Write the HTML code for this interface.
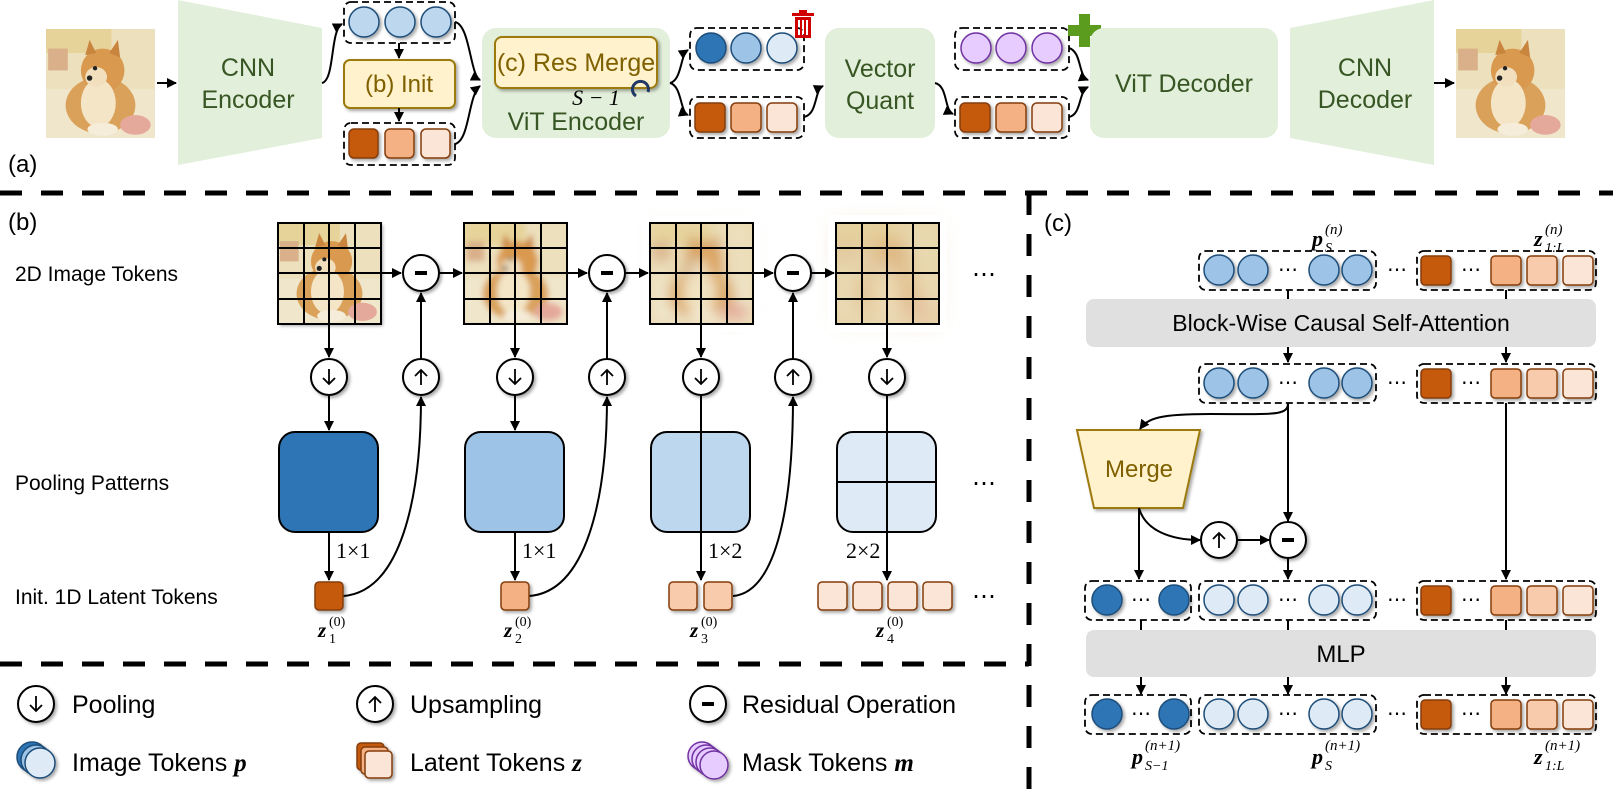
<!DOCTYPE html>
<html><head><meta charset="utf-8"><style>
html,body{margin:0;padding:0;background:#fff;}
svg{display:block;}
.t{font-family:"Liberation Sans",sans-serif;}
.m{font-family:"Liberation Serif",serif;}
</style></head><body>
<svg width="1613" height="797" viewBox="0 0 1613 797" xmlns="http://www.w3.org/2000/svg">
<defs>
<marker id="ar" markerWidth="10" markerHeight="10" refX="9" refY="5" orient="auto" markerUnits="userSpaceOnUse"><path d="M0,0 L10,5 L0,10 z" fill="#000"/></marker>
<filter id="sh" x="-30%" y="-30%" width="170%" height="170%"><feDropShadow dx="2" dy="2" stdDeviation="1.5" flood-color="#000" flood-opacity="0.35"/></filter>
<filter id="b1" x="-20%" y="-20%" width="140%" height="140%"><feGaussianBlur stdDeviation="0.5"/></filter>
<filter id="b2" x="-20%" y="-20%" width="140%" height="140%"><feGaussianBlur stdDeviation="3"/></filter>
<filter id="b3" x="-20%" y="-20%" width="140%" height="140%"><feGaussianBlur stdDeviation="6"/></filter>
<filter id="b4" x="-20%" y="-20%" width="140%" height="140%"><feGaussianBlur stdDeviation="10"/></filter>
<g id="dog">
<rect x="0" y="0" width="100" height="100" fill="#ece0bd"/>
<rect x="0" y="0" width="60" height="22" fill="#e6d39a"/>
<rect x="2" y="18" width="18" height="20" fill="#d9b08a"/>
<rect x="0" y="55" width="100" height="45" fill="#f0e6cc"/>
<ellipse cx="50" cy="70" rx="32" ry="26" fill="#d9a15a"/>
<ellipse cx="52" cy="38" rx="20" ry="20" fill="#d99a50"/>
<ellipse cx="48" cy="68" rx="16" ry="22" fill="#f3e5c6"/>
<ellipse cx="46" cy="44" rx="10" ry="9" fill="#f1dfbe"/>
<path d="M36,24 L40,10 L46,22 z M58,22 L66,10 L68,26 z" fill="#c9853e"/>
<ellipse cx="82" cy="88" rx="14" ry="9" fill="#e4a99a"/>
<ellipse cx="52" cy="92" rx="14" ry="6" fill="#f5ecd9"/>
<circle cx="45" cy="36" r="2" fill="#222"/><circle cx="40" cy="45" r="2.5" fill="#222"/>
</g>
</defs>

<!-- ===== (a) ===== -->
<use href="#dog" transform="translate(46,29) scale(1.09,1.09)"/>
<line x1="157" y1="83" x2="176" y2="83" stroke="#000" stroke-width="2" marker-end="url(#ar)"/>
<polygon points="178,0 322,28 322,138 178,165" fill="#e2efda"/>
<text class="t" x="248" y="76" font-size="25" fill="#375623" text-anchor="middle">CNN</text>
<text class="t" x="248" y="108" font-size="25" fill="#375623" text-anchor="middle">Encoder</text>

<rect x="344" y="2" width="111" height="41" rx="7" fill="none" stroke="#000" stroke-width="1.8" stroke-dasharray="7,4"/>
<g filter="url(#sh)" stroke="#1f4e79" stroke-width="1.5" fill="#bdd7ee">
<circle cx="364" cy="22" r="15"/><circle cx="400" cy="22" r="15"/><circle cx="436" cy="22" r="15"/></g>
<rect x="344" y="60" width="111" height="48" rx="6" fill="#fff2cc" stroke="#9c7a10" stroke-width="2" filter="url(#sh)"/>
<text class="t" x="399" y="92" font-size="24" fill="#7f6000" text-anchor="middle">(b) Init</text>
<rect x="344" y="123" width="111" height="42" rx="7" fill="none" stroke="#000" stroke-width="1.8" stroke-dasharray="7,4"/>
<g filter="url(#sh)" stroke="#843c0c" stroke-width="1.5">
<rect x="349" y="129" width="29" height="29" rx="5" fill="#c55a11"/><rect x="385" y="129" width="29" height="29" rx="5" fill="#f4b183"/><rect x="421" y="129" width="29" height="29" rx="5" fill="#fbe5d6"/></g>
<g fill="none" stroke="#000" stroke-width="2">
<path d="M322,83 C335,80 330,30 342,24" marker-end="url(#ar)"/>
<line x1="399" y1="43" x2="399" y2="58" marker-end="url(#ar)"/>
<line x1="399" y1="108" x2="399" y2="121" marker-end="url(#ar)"/>
<path d="M455,22 C470,25 470,75 480,80" marker-end="url(#ar)"/>
<path d="M455,144 C470,140 468,95 480,86" marker-end="url(#ar)"/>
</g>

<rect x="482" y="28" width="188" height="110" rx="14" fill="#e2efda"/>
<rect x="495" y="37" width="162" height="51" rx="7" fill="#fff2cc" stroke="#9c7a10" stroke-width="2" filter="url(#sh)"/>
<text class="t" x="576" y="71" font-size="25" fill="#7f6000" text-anchor="middle">(c) Res Merge</text>
<path d="M636,96 A8,8 0 1 1 648,92" fill="none" stroke="#1f3864" stroke-width="3"/>
<text class="m" x="596" y="105" font-size="22" font-style="italic" text-anchor="middle">S − 1</text>
<text class="t" x="576" y="130" font-size="25" fill="#375623" text-anchor="middle">ViT Encoder</text>

<g fill="none" stroke="#000" stroke-width="2">
<path d="M670,83 C682,80 680,55 688,50" marker-end="url(#ar)"/>
<path d="M670,83 C682,86 680,112 688,115" marker-end="url(#ar)"/>
</g>
<rect x="690" y="28" width="114" height="42" rx="7" fill="none" stroke="#000" stroke-width="1.8" stroke-dasharray="7,4"/>
<g filter="url(#sh)" stroke="#1f4e79" stroke-width="1.5">
<circle cx="711" cy="48" r="15" fill="#2e75b6"/><circle cx="746" cy="48" r="15" fill="#9dc3e6"/><circle cx="782" cy="48" r="15" fill="#deebf7"/></g>
<g fill="#d00000"><rect x="792" y="13" width="22" height="3"/><rect x="799" y="10" width="8" height="4"/>
<path d="M795,17 h16 v21 h-16 z M798,20 v15 h2 v-15 z M802,20 v15 h2 v-15 z M806,20 v15 h2 v-15 z" fill-rule="evenodd"/></g>
<rect x="690" y="97" width="114" height="41" rx="7" fill="none" stroke="#000" stroke-width="1.8" stroke-dasharray="7,4"/>
<g filter="url(#sh)" stroke="#843c0c" stroke-width="1.5">
<rect x="695" y="103" width="30" height="29" rx="5" fill="#c55a11"/><rect x="731" y="103" width="30" height="29" rx="5" fill="#f4b183"/><rect x="767" y="103" width="30" height="29" rx="5" fill="#fbe5d6"/></g>
<path d="M804,117 C818,114 814,90 823,86" fill="none" stroke="#000" stroke-width="2" marker-end="url(#ar)"/>

<rect x="825" y="28" width="110" height="110" rx="14" fill="#e2efda"/>
<text class="t" x="880" y="77" font-size="25" fill="#375623" text-anchor="middle">Vector</text>
<text class="t" x="880" y="109" font-size="25" fill="#375623" text-anchor="middle">Quant</text>
<path d="M935,83 C948,86 944,110 953,114" fill="none" stroke="#000" stroke-width="2" marker-end="url(#ar)"/>

<rect x="955" y="28" width="114" height="42" rx="7" fill="none" stroke="#000" stroke-width="1.8" stroke-dasharray="7,4"/>
<g filter="url(#sh)" stroke="#7030a0" stroke-width="1.5" fill="#e6ccff">
<circle cx="976" cy="48" r="15"/><circle cx="1011" cy="48" r="15"/><circle cx="1047" cy="48" r="15"/></g>
<path d="M1079,14 h11 v11 h11 v11 h-11 v11 h-11 v-11 h-11 v-11 h11 z" fill="#5b9c1f"/>
<rect x="955" y="97" width="114" height="41" rx="7" fill="none" stroke="#000" stroke-width="1.8" stroke-dasharray="7,4"/>
<g filter="url(#sh)" stroke="#843c0c" stroke-width="1.5">
<rect x="960" y="103" width="30" height="29" rx="5" fill="#c55a11"/><rect x="996" y="103" width="30" height="29" rx="5" fill="#f4b183"/><rect x="1032" y="103" width="30" height="29" rx="5" fill="#fbe5d6"/></g>
<g fill="none" stroke="#000" stroke-width="2">
<path d="M1069,48 C1082,52 1078,76 1088,80" marker-end="url(#ar)"/>
<path d="M1069,117 C1082,114 1078,92 1088,87" marker-end="url(#ar)"/>
</g>
<rect x="1090" y="28" width="188" height="110" rx="14" fill="#e2efda"/>
<text class="t" x="1184" y="92" font-size="25" fill="#375623" text-anchor="middle">ViT Decoder</text>
<polygon points="1290,28 1434,0 1434,165 1290,138" fill="#e2efda"/>
<text class="t" x="1365" y="76" font-size="25" fill="#375623" text-anchor="middle">CNN</text>
<text class="t" x="1365" y="108" font-size="25" fill="#375623" text-anchor="middle">Decoder</text>
<line x1="1434" y1="83" x2="1454" y2="83" stroke="#000" stroke-width="2" marker-end="url(#ar)"/>
<use href="#dog" transform="translate(1456,29) scale(1.09,1.09)"/>
<text class="t" x="8" y="172" font-size="24">(a)</text>

<!-- separators -->
<g stroke="#000" stroke-width="5" stroke-dasharray="22,19">
<line x1="0" y1="193" x2="1613" y2="193"/>
<line x1="1029" y1="193" x2="1029" y2="797"/>
<line x1="0" y1="664" x2="1029" y2="664"/>
</g>

<!-- ===== (b) ===== -->
<text class="t" x="8" y="230" font-size="24">(b)</text>
<text class="t" x="15" y="281" font-size="21">2D Image Tokens</text>
<text class="t" x="15" y="490" font-size="21">Pooling Patterns</text>
<text class="t" x="15" y="604" font-size="21">Init. 1D Latent Tokens</text>
<g font-size="24" class="t"><text x="972" y="282">⋯</text><text x="972" y="491">⋯</text><text x="972" y="604">⋯</text></g>

<!-- grids -->
<g filter="url(#sh)"><use href="#dog" transform="translate(278,223) scale(1.03,1.01)"/></g>
<rect x="464" y="223" width="103" height="101" fill="#ebdcb6" filter="url(#sh)"/>
<g filter="url(#b2)"><use href="#dog" transform="translate(464,223) scale(1.03,1.01)"/></g>
<rect x="650" y="223" width="103" height="101" fill="#e9d8ae" filter="url(#sh)"/>
<g opacity="0.85" filter="url(#b3)"><use href="#dog" transform="translate(650,223) scale(1.03,1.01)"/></g>
<rect x="836" y="223" width="103" height="101" fill="#e5d1a2" filter="url(#sh)"/>
<g opacity="0.6" filter="url(#b4)"><use href="#dog" transform="translate(836,223) scale(1.03,1.01)"/></g>
<g fill="none" stroke="#fff" stroke-width="8">
<rect x="460" y="219" width="111" height="109"/><rect x="646" y="219" width="111" height="109"/><rect x="832" y="219" width="111" height="109"/>
</g>
<g fill="none" stroke="#000" stroke-width="2">
<path d="M278,223h103v101h-103z M304,223v101 M329,223v101 M355,223v101 M278,248h103 M278,273h103 M278,299h103"/>
<path d="M464,223h103v101h-103z M490,223v101 M515,223v101 M541,223v101 M464,248h103 M464,273h103 M464,299h103"/>
<path d="M650,223h103v101h-103z M676,223v101 M701,223v101 M727,223v101 M650,248h103 M650,273h103 M650,299h103"/>
<path d="M836,223h103v101h-103z M862,223v101 M887,223v101 M913,223v101 M836,248h103 M836,273h103 M836,299h103"/>
</g>

<!-- pooling squares -->
<g stroke="#000" stroke-width="2">
<rect x="279" y="432" width="99" height="100" rx="16" fill="#2e75b6"/>
<rect x="465" y="432" width="99" height="100" rx="16" fill="#9dc3e6"/>
<rect x="651" y="432" width="99" height="100" rx="16" fill="#bdd7ee"/>
<rect x="837" y="432" width="99" height="100" rx="16" fill="#deebf7"/>
<line x1="837" y1="482" x2="936" y2="482"/>
</g>
<!-- connectors (b) -->
<g fill="none" stroke="#000" stroke-width="2">
<line x1="329" y1="324" x2="329" y2="357" marker-end="url(#ar)"/>
<line x1="515" y1="324" x2="515" y2="357" marker-end="url(#ar)"/>
<line x1="701" y1="324" x2="701" y2="357" marker-end="url(#ar)"/>
<line x1="887" y1="324" x2="887" y2="357" marker-end="url(#ar)"/>
<line x1="329" y1="395" x2="329" y2="430" marker-end="url(#ar)"/>
<line x1="515" y1="395" x2="515" y2="430" marker-end="url(#ar)"/>
<line x1="329" y1="532" x2="329" y2="580" marker-end="url(#ar)"/>
<line x1="515" y1="532" x2="515" y2="580" marker-end="url(#ar)"/>
<line x1="701" y1="395" x2="701" y2="580" marker-end="url(#ar)"/>
<line x1="887" y1="395" x2="887" y2="580" marker-end="url(#ar)"/>
<line x1="381" y1="273" x2="401" y2="273" marker-end="url(#ar)"/>
<line x1="439" y1="273" x2="462" y2="273" marker-end="url(#ar)"/>
<line x1="567" y1="273" x2="587" y2="273" marker-end="url(#ar)"/>
<line x1="625" y1="273" x2="648" y2="273" marker-end="url(#ar)"/>
<line x1="753" y1="273" x2="773" y2="273" marker-end="url(#ar)"/>
<line x1="811" y1="273" x2="834" y2="273" marker-end="url(#ar)"/>
<line x1="421" y1="359" x2="421" y2="293" marker-end="url(#ar)"/>
<line x1="607" y1="359" x2="607" y2="293" marker-end="url(#ar)"/>
<line x1="793" y1="359" x2="793" y2="293" marker-end="url(#ar)"/>
<path d="M343,596 C400,592 421,500 421,397" marker-end="url(#ar)"/>
<path d="M529,596 C586,592 607,500 607,397" marker-end="url(#ar)"/>
<path d="M733,596 C778,592 793,500 793,397" marker-end="url(#ar)"/>
</g>
<!-- circles (b) -->
<g stroke="#000" stroke-width="2" fill="#fff" filter="url(#sh)">
<circle cx="421" cy="273" r="18"/><circle cx="607" cy="273" r="18"/><circle cx="793" cy="273" r="18"/>
<circle cx="329" cy="377" r="18"/><circle cx="515" cy="377" r="18"/><circle cx="701" cy="377" r="18"/><circle cx="887" cy="377" r="18"/>
<circle cx="421" cy="377" r="18"/><circle cx="607" cy="377" r="18"/><circle cx="793" cy="377" r="18"/>
</g>
<g fill="#000"><rect x="415" y="271" width="12" height="4"/><rect x="601" y="271" width="12" height="4"/><rect x="787" y="271" width="12" height="4"/></g>
<g fill="none" stroke="#000" stroke-width="1.8">
<path d="M329,369v15 M323,378l6,6l6,-6"/><path d="M515,369v15 M509,378l6,6l6,-6"/><path d="M701,369v15 M695,378l6,6l6,-6"/><path d="M887,369v15 M881,378l6,6l6,-6"/>
<path d="M421,385v-15 M415,376l6,-6l6,6"/><path d="M607,385v-15 M601,376l6,-6l6,6"/><path d="M793,385v-15 M787,376l6,-6l6,6"/>
</g>
<g class="m" font-size="22"><text x="336" y="558">1×1</text><text x="522" y="558">1×1</text><text x="708" y="558">1×2</text><text x="846" y="558">2×2</text></g>
<!-- latent -->
<g stroke="#843c0c" stroke-width="1.5" filter="url(#sh)">
<rect x="315" y="582" width="28" height="28" rx="4" fill="#c55a11"/>
<rect x="501" y="582" width="28" height="28" rx="4" fill="#f4b183"/>
<rect x="669" y="582" width="28" height="28" rx="4" fill="#f8cbad"/><rect x="704" y="582" width="28" height="28" rx="4" fill="#f8cbad"/>
<rect x="818" y="582" width="29" height="28" rx="4" fill="#fbe5d6"/><rect x="853" y="582" width="29" height="28" rx="4" fill="#fbe5d6"/><rect x="888" y="582" width="29" height="28" rx="4" fill="#fbe5d6"/><rect x="923" y="582" width="29" height="28" rx="4" fill="#fbe5d6"/>
</g>
<g class="m">
<text x="318" y="637" font-size="21" font-weight="bold" font-style="italic">z</text><text x="329" y="643" font-size="14">1</text><text x="329" y="626" font-size="14">(0)</text>
<text x="504" y="637" font-size="21" font-weight="bold" font-style="italic">z</text><text x="515" y="643" font-size="14">2</text><text x="515" y="626" font-size="14">(0)</text>
<text x="690" y="637" font-size="21" font-weight="bold" font-style="italic">z</text><text x="701" y="643" font-size="14">3</text><text x="701" y="626" font-size="14">(0)</text>
<text x="876" y="637" font-size="21" font-weight="bold" font-style="italic">z</text><text x="887" y="643" font-size="14">4</text><text x="887" y="626" font-size="14">(0)</text>
</g>

<!-- legend -->
<g stroke="#000" stroke-width="2" fill="#fff" filter="url(#sh)"><circle cx="36" cy="704" r="18"/><circle cx="375" cy="704" r="18"/><circle cx="708" cy="704" r="18"/></g>
<g fill="none" stroke="#000" stroke-width="1.8"><path d="M36,696v15 M30,705l6,6l6,-6"/><path d="M375,712v-15 M369,703l6,-6l6,6"/></g>
<rect x="702" y="702" width="12" height="4"/>
<g class="t" font-size="25"><text x="72" y="713">Pooling</text><text x="410" y="713">Upsampling</text><text x="742" y="713">Residual Operation</text>
<text x="72" y="771">Image Tokens <tspan class="m" font-weight="bold" font-style="italic">p</tspan></text>
<text x="410" y="771">Latent Tokens <tspan class="m" font-weight="bold" font-style="italic">z</tspan></text>
<text x="742" y="771">Mask Tokens <tspan class="m" font-weight="bold" font-style="italic">m</tspan></text></g>
<g stroke="#1f4e79" stroke-width="1.5" filter="url(#sh)"><circle cx="32" cy="757" r="15" fill="#2e75b6"/><circle cx="36" cy="760" r="15" fill="#9dc3e6"/><circle cx="40" cy="763" r="15" fill="#deebf7"/></g>
<g stroke="#843c0c" stroke-width="1.5" filter="url(#sh)"><rect x="357" y="743" width="27" height="27" rx="4" fill="#c55a11"/><rect x="361" y="747" width="27" height="27" rx="4" fill="#f4b183"/><rect x="365" y="751" width="27" height="27" rx="4" fill="#fbe5d6"/></g>
<g stroke="#7030a0" stroke-width="1.5" fill="#e6ccff" filter="url(#sh)"><circle cx="702" cy="756" r="14"/><circle cx="706" cy="759" r="14"/><circle cx="710" cy="762" r="14"/><circle cx="714" cy="765" r="14"/></g>

<!-- ===== (c) ===== -->
<text class="t" x="1044" y="231" font-size="24">(c)</text>
<g class="m">
<text x="1312" y="246" font-size="22" font-weight="bold" font-style="italic">p</text><text x="1325" y="252" font-size="14" font-style="italic">S</text><text x="1325" y="234" font-size="15" font-style="italic">(n)</text>
<text x="1534" y="246" font-size="22" font-weight="bold" font-style="italic">z</text><text x="1545" y="252" font-size="14" font-style="italic">1:L</text><text x="1545" y="234" font-size="15" font-style="italic">(n)</text>
<text x="1132" y="764" font-size="22" font-weight="bold" font-style="italic">p</text><text x="1145" y="770" font-size="14" font-style="italic">S−1</text><text x="1145" y="750" font-size="15" font-style="italic">(n+1)</text>
<text x="1312" y="764" font-size="22" font-weight="bold" font-style="italic">p</text><text x="1325" y="770" font-size="14" font-style="italic">S</text><text x="1325" y="750" font-size="15" font-style="italic">(n+1)</text>
<text x="1534" y="764" font-size="22" font-weight="bold" font-style="italic">z</text><text x="1545" y="770" font-size="14" font-style="italic">1:L</text><text x="1545" y="750" font-size="15" font-style="italic">(n+1)</text>
</g>

<rect x="1086" y="299" width="510" height="48" rx="8" fill="#e0e0e0"/>
<text class="t" x="1341" y="331" font-size="23" text-anchor="middle">Block-Wise Causal Self-Attention</text>
<rect x="1086" y="630" width="510" height="47" rx="8" fill="#e0e0e0"/>
<text class="t" x="1341" y="662" font-size="24" text-anchor="middle">MLP</text>

<g id="rowA">
<rect x="1199" y="251" width="177" height="39" rx="7" fill="none" stroke="#000" stroke-width="1.8" stroke-dasharray="7,4"/>
<g stroke="#1f4e79" stroke-width="1.5" fill="#9dc3e6" filter="url(#sh)"><ellipse cx="1219" cy="270" rx="15" ry="15"/><ellipse cx="1253" cy="270" rx="15" ry="15"/><ellipse cx="1324" cy="270" rx="15" ry="15"/><ellipse cx="1357" cy="270" rx="15" ry="15"/></g>
<text class="t" x="1288" y="276" font-size="20" text-anchor="middle">⋯</text>
<text class="t" x="1397" y="276" font-size="20" text-anchor="middle">⋯</text>
<rect x="1417" y="251" width="179" height="39" rx="7" fill="none" stroke="#000" stroke-width="1.8" stroke-dasharray="7,4"/>
<g stroke="#843c0c" stroke-width="1.5" filter="url(#sh)"><rect x="1421" y="256" width="30" height="29" rx="4" fill="#c55a11"/><rect x="1491" y="256" width="30" height="29" rx="4" fill="#f4b183"/><rect x="1527" y="256" width="30" height="29" rx="4" fill="#f8cbad"/><rect x="1563" y="256" width="30" height="29" rx="4" fill="#fbe5d6"/></g>
<text class="t" x="1471" y="276" font-size="20" text-anchor="middle">⋯</text>
</g>
<use href="#rowA" transform="translate(0,113)"/>
<g id="rowB">
<rect x="1085" y="581" width="106" height="39" rx="7" fill="none" stroke="#000" stroke-width="1.8" stroke-dasharray="7,4"/>
<g stroke="#1f4e79" stroke-width="1.5" filter="url(#sh)"><circle cx="1107" cy="600" r="15" fill="#2e75b6"/><circle cx="1174" cy="600" r="15" fill="#2e75b6"/>
<circle cx="1219" cy="600" r="15" fill="#deebf7"/><circle cx="1253" cy="600" r="15" fill="#deebf7"/><circle cx="1324" cy="600" r="15" fill="#deebf7"/><circle cx="1357" cy="600" r="15" fill="#deebf7"/></g>
<text class="t" x="1141" y="606" font-size="20" text-anchor="middle">⋯</text>
<rect x="1199" y="581" width="177" height="39" rx="7" fill="none" stroke="#000" stroke-width="1.8" stroke-dasharray="7,4"/>
<text class="t" x="1288" y="606" font-size="20" text-anchor="middle">⋯</text>
<text class="t" x="1397" y="606" font-size="20" text-anchor="middle">⋯</text>
<rect x="1417" y="581" width="179" height="39" rx="7" fill="none" stroke="#000" stroke-width="1.8" stroke-dasharray="7,4"/>
<g stroke="#843c0c" stroke-width="1.5" filter="url(#sh)"><rect x="1421" y="586" width="30" height="29" rx="4" fill="#c55a11"/><rect x="1491" y="586" width="30" height="29" rx="4" fill="#f4b183"/><rect x="1527" y="586" width="30" height="29" rx="4" fill="#f8cbad"/><rect x="1563" y="586" width="30" height="29" rx="4" fill="#fbe5d6"/></g>
<text class="t" x="1471" y="606" font-size="20" text-anchor="middle">⋯</text>
</g>
<use href="#rowB" transform="translate(0,114)"/>

<polygon points="1077,430 1200,430 1183,508 1094,508" fill="#fff2cc" stroke="#9c7a10" stroke-width="2" filter="url(#sh)"/>
<text class="t" x="1139" y="477" font-size="24" fill="#7f6000" text-anchor="middle">Merge</text>

<g fill="none" stroke="#000" stroke-width="2">
<path d="M1288,290v9 M1506,290v9"/>
<line x1="1288" y1="347" x2="1288" y2="362" marker-end="url(#ar)"/>
<line x1="1506" y1="347" x2="1506" y2="362" marker-end="url(#ar)"/>
<path d="M1288,403 C1288,416 1275,414 1210,414 C1160,414 1148,418 1140,429" marker-end="url(#ar)"/>
<line x1="1288" y1="403" x2="1288" y2="521" marker-end="url(#ar)"/>
<line x1="1506" y1="403" x2="1506" y2="579" marker-end="url(#ar)"/>
<path d="M1139,508 C1145,530 1170,540 1200,540" marker-end="url(#ar)"/>
<line x1="1139" y1="508" x2="1139" y2="579" marker-end="url(#ar)"/>
<line x1="1237" y1="540" x2="1269" y2="540" marker-end="url(#ar)"/>
<line x1="1288" y1="558" x2="1288" y2="579" marker-end="url(#ar)"/>
<path d="M1141,620v10 M1288,620v10 M1506,620v10"/>
<line x1="1141" y1="677" x2="1141" y2="694" marker-end="url(#ar)"/>
<line x1="1288" y1="677" x2="1288" y2="694" marker-end="url(#ar)"/>
<line x1="1506" y1="677" x2="1506" y2="694" marker-end="url(#ar)"/>
</g>
<g stroke="#000" stroke-width="2" fill="#fff" filter="url(#sh)"><circle cx="1219" cy="540" r="18"/><circle cx="1288" cy="540" r="18"/></g>
<path d="M1219,548v-15 M1213,539l6,-6l6,6" fill="none" stroke="#000" stroke-width="1.8"/>
<rect x="1282" y="538" width="12" height="4"/>
</svg>
</body></html>
